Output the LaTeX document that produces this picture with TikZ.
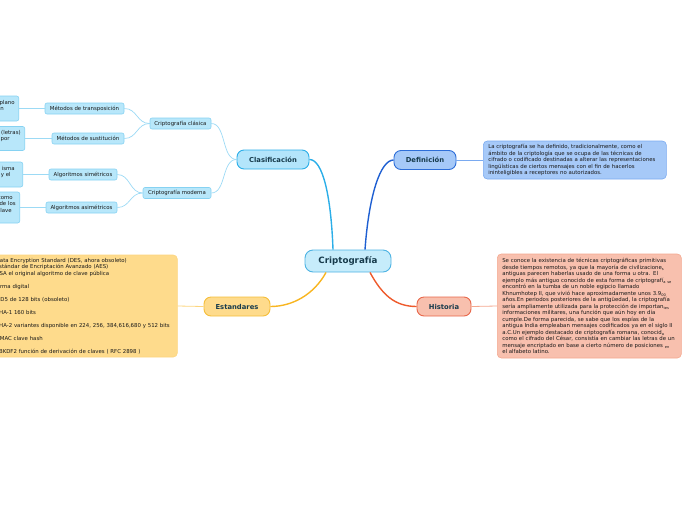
\documentclass[tikz,border=0pt]{standalone}
\usepackage{fontspec}
\setmainfont{DejaVu Sans}
\definecolor{rootfill}{HTML}{C6ECFB}
\definecolor{rootline}{HTML}{4DB3E3}
\definecolor{clasfill}{HTML}{B3E5FB}
\definecolor{clasline}{HTML}{2BAEE8}
\definecolor{subfill}{HTML}{B8E7FA}
\definecolor{subline}{HTML}{86D2F2}
\definecolor{subwire}{HTML}{9CDAF5}
\definecolor{deffill}{HTML}{A6C9F8}
\definecolor{defline}{HTML}{2E6ED8}
\definecolor{defwire}{HTML}{1E5FD2}
\definecolor{defnoteline}{HTML}{7AAAF0}
\definecolor{stdfill}{HTML}{FEDB8C}
\definecolor{stdline}{HTML}{F5BE3A}
\definecolor{stdwire}{HTML}{F8B520}
\definecolor{stdnoteline}{HTML}{FCD57E}
\definecolor{hisfill}{HTML}{F8C0AE}
\definecolor{hisline}{HTML}{E8674A}
\definecolor{hiswire}{HTML}{EE5A2C}
\definecolor{hisnoteline}{HTML}{F4A88F}
\definecolor{labeltext}{HTML}{173B4C}
\newcommand\spill[1]{\raisebox{-1.2pt}{\fontsize{3.6}{3.6}\selectfont #1}}
\begin{document}
\begin{tikzpicture}[x=1pt,y=-1pt,
  every node/.style={font=\fontsize{5.4}{6.5}\selectfont,text=black!90},
  root/.style={draw=rootline,fill=rootfill,line width=0.9pt,rounded corners=8pt,
    minimum width=86pt,minimum height=22pt,text=labeltext,
    font=\bfseries\fontsize{8.7}{10}\selectfont},
  topic/.style={draw,line width=0.9pt,rounded corners=7pt,minimum height=19pt,
    text=labeltext,font=\bfseries\fontsize{6.8}{8}\selectfont},
  branch/.style={draw=subline,fill=subfill,line width=0.6pt,rounded corners=2pt,
    minimum height=11pt,inner sep=1pt},
  leaf/.style={branch,anchor=east,text width=40pt,align=right,inner xsep=0pt,inner ysep=0pt},
  note/.style={anchor=west,line width=0.6pt,rounded corners=4pt,align=left,
    inner xsep=5pt,inner ysep=0pt},
  wire/.style={line width=1.4pt},
  twig/.style={draw=subwire,line width=0.7pt}]
\useasboundingbox (0,0) rectangle (696,520);
\clip (0,0) rectangle (696,520);
% centre and main topics
\node[root] (cripto) at (348,261) {Criptografía};
\node[topic,draw=clasline,fill=clasfill,minimum width=72pt] (clasif) at (273,159.5) {Clasificación};
\node[topic,draw=defline,fill=deffill,minimum width=62pt] (defin) at (425,160) {Definición};
\node[topic,draw=stdline,fill=stdfill,minimum width=66pt] (estand) at (237,306.5) {Estandares};
\node[topic,draw=hisline,fill=hisfill,minimum width=54pt] (hist) at (444,306.5) {Historia};
% clasificación
\node[branch,minimum width=61pt] (clasica) at (180.5,123.5) {Criptografía clásica};
\node[branch,minimum width=68pt] (moderna) at (177,193) {Criptografía moderna};
\node[branch,minimum width=79pt] (transp) at (84.5,108.5) {Métodos de transposición};
\node[branch,minimum width=72pt] (sustit) at (88,138.5) {Métodos de sustitución};
\node[branch,minimum width=68pt] (simetr) at (83,174.5) {Algoritmos simétricos};
\node[branch,minimum width=71pt] (asimetr) at (81.5,207.5) {Algoritmos asimétricos};
\node[leaf,minimum height=25pt] (transpleaf) at (19,108.5) {plano\kern4pt\\n\kern15pt\\\mbox{}};
\node[leaf,minimum height=24pt] (sustitleaf) at (25,138.5) {(letras)\kern4pt\\por\kern15pt\\\mbox{}};
\node[leaf,minimum height=25pt] (simetrleaf) at (23,174.5) {isma\kern8pt\\y el\kern12pt\\\mbox{}};
\node[leaf,minimum height=31pt] (asimetrleaf) at (20,207.5) {como\kern7pt\\de los\kern4pt\\lave\kern8pt\\\mbox{}};
% notes
\node[note,draw=defnoteline,fill=deffill,text width=173pt,minimum height=38pt] (defnote) at (483,160)
 {La criptografía se ha definido, tradicionalmente, como el\\
  ámbito de la criptología que se ocupa de las técnicas de\\
  cifrado o codificado destinadas a alterar las representaciones\\
  lingüísticas de ciertos mensajes con el fin de hacerlos\\
  ininteligibles a receptores no autorizados.};
\node[note,draw=hisnoteline,fill=hisfill,text width=174pt,minimum height=104pt] (hisnote) at (497,306)
 {Se conoce la existencia de técnicas criptográficas primitivas\\
  desde tiempos remotos, ya que la mayoría de civilizacione\spill{s}\\
  antiguas parecen haberlas usado de una forma u otra. El\\
  ejemplo más antiguo conocido de esta forma de criptografí\spill{a se}\\
  encontró en la tumba de un noble egipcio llamado\\
  Khnumhotep II, que vivió hace aproximadamente unos 3.9\spill{00}\\
  años.En periodos posteriores de la antigüedad, la criptografía\\
  sería ampliamente utilizada para la protección de importan\spill{tes}\\
  informaciones militares, una función que aún hoy en día\\
  cumple.De forma parecida, se sabe que los espías de la\\
  antigua India empleaban mensajes codificados ya en el siglo II\\
  a.C.Un ejemplo destacado de criptografía romana, conocid\spill{a}\\
  como el cifrado del César, consistía en cambiar las letras de un\\
  mensaje encriptado en base a cierto número de posiciones \spill{en}\\
  el alfabeto latino.};
\node[note,draw=stdnoteline,fill=stdfill,text width=176pt,minimum height=102pt,inner xsep=5.5pt] (stdnote) at (-10,306)
 {Data Encryption Standard (DES, ahora obsoleto)\\
  Estándar de Encriptación Avanzado (AES)\\
  RSA el original algoritmo de clave pública\\ \mbox{}\\
  Firma digital\\ \mbox{}\\
  MD5 de 128 bits (obsoleto)\\ \mbox{}\\
  SHA-1 160 bits\\ \mbox{}\\
  SHA-2 variantes disponible en 224, 256, 384,616,680 y 512 bits\\ \mbox{}\\
  HMAC clave hash\\ \mbox{}\\
  PBKDF2 función de derivación de claves ( RFC 2898 )};
% connectors
\draw[wire,clasline] ([xshift=-15pt]cripto.north) .. controls +(-2,-55) and +(13,0) .. (clasif.east);
\draw[wire,defwire] ([xshift=17pt]cripto.north) .. controls +(4,-55) and +(-13,0) .. (defin.west);
\draw[wire,stdwire] ([xshift=-22pt]cripto.south) .. controls +(-12,22) and +(22,0) .. (estand.east);
\draw[wire,hiswire] ([xshift=22pt]cripto.south) .. controls +(12,22) and +(-22,0) .. (hist.west);
\draw[twig] (clasif.west) .. controls +(-15,0) and +(15,0) .. (clasica.east);
\draw[twig] (clasif.west) .. controls +(-15,0) and +(15,0) .. (moderna.east);
\draw[twig] (clasica.west) .. controls +(-13,0) and +(13,0) .. (transp.east);
\draw[twig] (clasica.west) .. controls +(-13,0) and +(13,0) .. (sustit.east);
\draw[twig] (moderna.west) .. controls +(-13,0) and +(13,0) .. (simetr.east);
\draw[twig] (moderna.west) .. controls +(-13,0) and +(13,0) .. (asimetr.east);
\draw[twig] (transpleaf.east) -- (transp.west);
\draw[twig] (sustitleaf.east) -- (sustit.west);
\draw[twig] (simetrleaf.east) -- (simetr.west);
\draw[twig] (asimetrleaf.east) -- (asimetr.west);
\draw[line width=0.8pt,defnoteline] (defin.east) -- (defnote.west);
\draw[line width=0.8pt,hisnoteline] (hist.east) -- (hisnote.west);
\draw[line width=0.8pt,stdnoteline] (estand.west) -- (stdnote.east);
\end{tikzpicture}
\end{document}
